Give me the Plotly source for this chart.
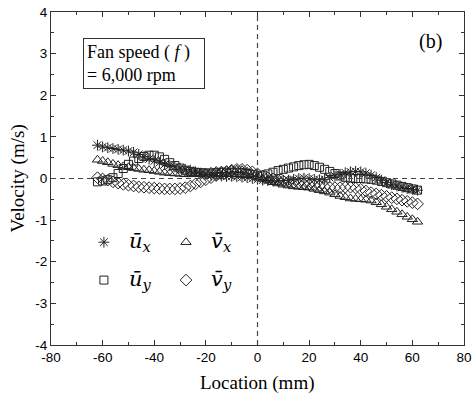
import plotly.graph_objects as go

location = [-62, -60, -58, -56, -54, -52, -50, -48, -46, -44, -42, -40, -38, -36, -34, -32,
            -30, -28, -26, -24, -22, -20, -18, -16, -14, -12, -10, -8, -6, -4, -2, 0,
            2, 4, 6, 8, 10, 12, 14, 16, 18, 20, 22, 24, 26, 28, 30, 32,
            34, 36, 38, 40, 42, 44, 46, 48, 50, 52, 54, 56, 58, 60, 62]

ux = [0.80, 0.76, 0.74, 0.72, 0.70, 0.68, 0.66, 0.63, 0.58, 0.52, 0.47, 0.42, 0.38, 0.34, 0.31, 0.28,
      0.25, 0.22, 0.20, 0.16, 0.13, 0.10, 0.08, 0.07, 0.06, 0.05, 0.05, 0.04, 0.03, 0.02, 0.00, -0.02,
      -0.04, -0.05, -0.06, -0.06, -0.05, -0.04, -0.02, 0.00, 0.01, 0.00, -0.02, -0.03, -0.02, 0.02, 0.06, 0.10,
      0.14, 0.16, 0.17, 0.16, 0.13, 0.08, 0.02, -0.04, -0.10, -0.15, -0.18, -0.21, -0.24, -0.26, -0.28]

uy = [-0.08, -0.06, -0.03, 0.02, 0.12, 0.24, 0.34, 0.42, 0.48, 0.53, 0.56, 0.56, 0.52, 0.46, 0.38, 0.31,
      0.25, 0.20, 0.17, 0.15, 0.14, 0.13, 0.13, 0.14, 0.15, 0.15, 0.15, 0.15, 0.14, 0.12, 0.10, 0.06,
      0.08, 0.11, 0.15, 0.19, 0.22, 0.25, 0.28, 0.31, 0.33, 0.34, 0.31, 0.27, 0.22, 0.17, 0.12, 0.06,
      0.03, 0.01, 0.00, 0.00, -0.01, -0.02, -0.04, -0.07, -0.10, -0.13, -0.16, -0.19, -0.22, -0.25, -0.28]

vx = [0.45, 0.42, 0.39, 0.35, 0.32, 0.29, 0.27, 0.25, 0.23, 0.21, 0.20, 0.18, 0.16, 0.14, 0.13, 0.12,
      0.11, 0.10, 0.10, 0.11, 0.12, 0.14, 0.16, 0.18, 0.19, 0.20, 0.21, 0.21, 0.20, 0.16, 0.10, 0.04,
      -0.01, -0.05, -0.09, -0.12, -0.15, -0.17, -0.19, -0.20, -0.21, -0.22, -0.25, -0.28, -0.31, -0.34, -0.38, -0.42,
      -0.45, -0.48, -0.49, -0.50, -0.51, -0.53, -0.57, -0.62, -0.68, -0.74, -0.80, -0.86, -0.92, -0.98, -1.04]

vy = [0.02, -0.01, -0.04, -0.08, -0.11, -0.14, -0.16, -0.18, -0.20, -0.21, -0.22, -0.23, -0.24, -0.25, -0.25, -0.25,
      -0.24, -0.22, -0.18, -0.13, -0.08, -0.03, 0.02, 0.07, 0.12, 0.16, 0.20, 0.22, 0.22, 0.20, 0.16, 0.11,
      0.06, 0.02, -0.01, -0.04, -0.06, -0.08, -0.10, -0.12, -0.14, -0.15, -0.17, -0.18, -0.20, -0.21, -0.22, -0.22,
      -0.21, -0.21, -0.23, -0.26, -0.30, -0.34, -0.37, -0.40, -0.43, -0.46, -0.49, -0.52, -0.55, -0.58, -0.61]

x_ticks = [-80, -60, -40, -20, 0, 20, 40, 60, 80]
x_tick_labels = ["-80", "-60", "-40", "-20", "0", "20", "40", "60", "80"]
y_ticks = [-4, -3, -2, -1, 0, 1, 2, 3, 4]
y_tick_labels = ["-4", "-3", "-2", "-1", "0", "1", "2", "3", "4"]

series = [
    ("ux", ux, "asterisk-open", 9),
    ("uy", uy, "square-open", 8),
    ("vx", vx, "triangle-up-open", 9),
    ("vy", vy, "diamond-open", 9),
]

legend_labels = {
    "ux": "<i>ū</i><sub><i>x</i></sub>",
    "uy": "<i>ū</i><sub><i>y</i></sub>",
    "vx": "<i>v̄</i><sub><i>x</i></sub>",
    "vy": "<i>v̄</i><sub><i>y</i></sub>",
}
legend_pos = {"ux": (-59.5, -1.53), "vx": (-27.7, -1.53), "uy": (-59.5, -2.44), "vy": (-27.7, -2.44)}

serif = "Liberation Serif, Times New Roman, serif"
sans = "Liberation Sans, Arial, sans-serif"

fig = go.Figure()

fig.add_shape(type="line", x0=0, x1=0, y0=-4, y1=4, xref="x", yref="y",
              line=dict(color="#444", width=1.2, dash="5px,4px"))
fig.add_shape(type="line", x0=-80, x1=80, y0=0, y1=0, xref="x", yref="y",
              line=dict(color="#444", width=1.2, dash="5px,4px"))

for name, vals, sym, sz in series:
    fig.add_trace(go.Scatter(
        x=location, y=vals, mode="markers", name=name, showlegend=False,
        marker=dict(symbol=sym, size=sz, color="#222", line=dict(color="#222", width=1)),
    ))

for name, vals, sym, sz in series:
    lx, ly = legend_pos[name]
    fig.add_trace(go.Scatter(
        x=[lx], y=[ly], mode="markers", showlegend=False, hoverinfo="skip",
        marker=dict(symbol=sym, size=sz, color="#222", line=dict(color="#222", width=1)),
    ))
    fig.add_annotation(x=lx + 9.0, y=ly, xref="x", yref="y", text=legend_labels[name],
                       showarrow=False, xanchor="left", yanchor="middle",
                       font=dict(family="DejaVu Serif, serif", size=21, color="black"))

fig.add_annotation(x=-67.6, y=3.38, xref="x", yref="y",
                   text="Fan speed ( <i>f</i> )<br>= 6,000 rpm",
                   showarrow=False, xanchor="left", yanchor="top", align="left",
                   width=114, bordercolor="#333", borderwidth=1, borderpad=3, bgcolor="white",
                   font=dict(family=serif, size=18, color="black"))

fig.add_annotation(x=66.9, y=3.28, xref="x", yref="y", text="(b)", showarrow=False,
                   xanchor="center", yanchor="middle",
                   font=dict(family=serif, size=20, color="black"))

fig.add_annotation(x=0.5, y=-0.114, xref="paper", yref="paper", text="Location (mm)",
                   showarrow=False, xanchor="center", yanchor="middle",
                   font=dict(family=serif, size=19, color="black"))
fig.add_annotation(x=-0.08, y=0.5, xref="paper", yref="paper", text="Velocity (m/s)",
                   showarrow=False, xanchor="center", yanchor="middle", textangle=-90,
                   font=dict(family=serif, size=19, color="black"))

axis_common = dict(
    showgrid=False, zeroline=False, showline=True, mirror="allticks", automargin=False,
    linecolor="#333", linewidth=1, ticks="inside", ticklen=5, tickcolor="#333",
    tickfont=dict(family=sans, size=13.5, color="black"),
)

fig.update_xaxes(range=[-80, 80], tickmode="array", tickvals=x_ticks, ticktext=x_tick_labels,
                 minor=dict(ticks="inside", ticklen=3, tickcolor="#333",
                            tickvals=[-70, -50, -30, -10, 10, 30, 50, 70], showgrid=False),
                 **axis_common)
fig.update_yaxes(range=[-4, 4], tickmode="array", tickvals=y_ticks, ticktext=y_tick_labels,
                 minor=dict(ticks="inside", ticklen=3, tickcolor="#333",
                            tickvals=[-3.5, -2.5, -1.5, -0.5, 0.5, 1.5, 2.5, 3.5], showgrid=False),
                 **axis_common)

fig.update_layout(
    width=474, height=397,
    margin=dict(l=51, r=10, t=12, b=52),
    paper_bgcolor="white", plot_bgcolor="white",
)

fig.write_html("out.html", config={"displayModeBar": False},
               post_script="document.body.style.margin='0';")
